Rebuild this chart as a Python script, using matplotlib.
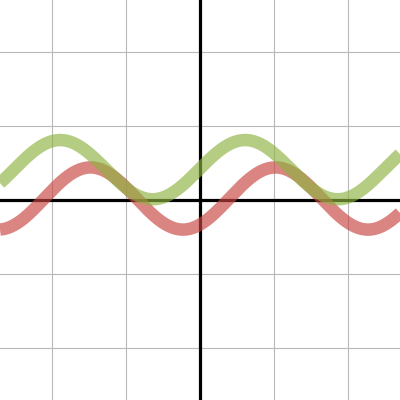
import numpy as np
import matplotlib.pyplot as plt

# curve parameters: (amplitude, offset, period, x of a peak)
red_params = [0.42, 0.02, 2.5, 1.02]
green_params = [0.40, 0.41, 2.5, 0.61]
grid_ticks = [-2, -1, 0, 1, 2]

half = 200 / 74
x = np.linspace(-half, half, 800)

def wave(p):
    amp, off, per, peak = p
    return off + amp * np.cos(2 * np.pi * (x - peak) / per)

fig = plt.figure(figsize=(4, 4), dpi=100)
ax = fig.add_axes([0, 0, 1, 1])
ax.set_xlim(-half, half)
ax.set_ylim(-half, half)
for t in grid_ticks:
    ax.axvline(t, color='#b8b8b8', lw=0.8, zorder=0)
    ax.axhline(t, color='#b8b8b8', lw=0.8, zorder=0)
ax.axhline(0, color='black', lw=2.3, zorder=1)
ax.axvline(0, color='black', lw=2.3, zorder=1)

ax.plot(x, wave(red_params), color='#c74440', alpha=0.65, lw=9, solid_capstyle='butt', zorder=2)
ax.plot(x, wave(green_params), color='#8db33f', alpha=0.65, lw=9, solid_capstyle='butt', zorder=3)
ax.axis('off')
fig.savefig('out.png', dpi=100)
